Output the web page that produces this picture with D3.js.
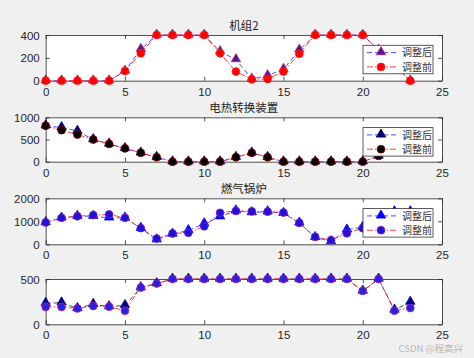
<!DOCTYPE html>
<html><head><meta charset="utf-8">
<script src="https://cdn.jsdelivr.net/npm/d3@7"></script>
<style>
html,body{margin:0;padding:0;background:#f0f0f0;}
svg{display:block;}
</style></head>
<body>
<svg id="chart" width="474" height="358"></svg>
<script>
// ---- data ----
const hours = [0,1,2,3,4,5,6,7,8,9,10,11,12,13,14,15,16,17,18,19,20,21,22,23];
const xTicks = [0,5,10,15,20,25];
const seriesNames = ["调整后", "调整前"];
const panelTitles = ["机组2", "电热转换装置", "燃气锅炉", ""];

const unit2After  = [0,0,0,0,0,85,275,400,400,400,400,255,185,15,45,100,270,400,400,400,400,270,130,0];
const unit2Before = [0,0,0,0,0,85,240,400,400,400,400,240,80,12,15,80,235,400,400,400,400,265,130,0];
const unit2YTicks = [0,200,400];

const e2hAfter  = [810,770,690,500,400,300,200,100,0,0,0,0,100,200,100,0,0,0,0,0,0,130,300,500];
const e2hBefore = [810,710,610,500,400,300,200,100,0,0,0,0,100,200,100,0,0,0,0,0,0,130,300,500];
const e2hYTicks = [0,500,1000];

const boilerAfter  = [950,1150,1220,1220,1150,1150,700,200,450,600,900,1200,1460,1380,1420,1350,930,300,120,630,750,1150,1420,1420];
const boilerBefore = [950,1150,1220,1270,1300,1150,700,250,470,500,780,1370,1450,1430,1420,1380,930,320,180,480,700,1100,1350,1350];
const boilerYTicks = [0,1000,2000];

const p4After  = [232,238,175,222,195,208,405,450,500,500,500,500,500,500,500,500,500,500,500,500,368,500,158,245];
const p4Before = [192,192,175,202,195,150,405,450,500,500,500,500,500,500,500,500,500,500,500,500,368,500,150,180];
const p4YTicks = [0,500];

// ---- layout / styles ----
const panels = [
  {title: panelTitles[0], after: unit2After, before: unit2Before, ymax: 400, yTicks: unit2YTicks,
   top: 35, bottom: 80.7, legend: true,
   aLine: "#3d3dff", aFill: "#4d1a8f", aStroke: "#c0206a",
   bLine: "#ff2a2a", bFill: "#ff0000", bStroke: "#ff2020"},
  {title: panelTitles[1], after: e2hAfter, before: e2hBefore, ymax: 1000, yTicks: e2hYTicks,
   top: 117.3, bottom: 161.7, legend: true,
   aLine: "#3d3dff", aFill: "#000070", aStroke: "#000070",
   bLine: "#ff2a2a", bFill: "#000000", bStroke: "#8b0000"},
  {title: panelTitles[2], after: boilerAfter, before: boilerBefore, ymax: 2000, yTicks: boilerYTicks,
   top: 198.3, bottom: 244.3, legend: true,
   aLine: "#3d3dff", aFill: "#0000ff", aStroke: "#0000ff",
   bLine: "#ff2a2a", bFill: "#2010d8", bStroke: "#8a20c0"},
  {title: panelTitles[3], after: p4After, before: p4Before, ymax: 500, yTicks: p4YTicks,
   top: 279, bottom: 324.3, legend: false,
   aLine: "#303030", aFill: "#00008b", aStroke: "#00008b",
   bLine: "#ff2a2a", bFill: "#2a20e0", bStroke: "#b020b0"}
];

const left = 45.7, right = 442;
const svg = d3.select("#chart");
const x = d3.scaleLinear().domain([0,25]).range([left, right]);
const axisColor = "#262626";
const tri = d3.symbol().type(d3.symbolTriangle).size(38);

panels.forEach(p => {
  const y = d3.scaleLinear().domain([0, p.ymax]).range([p.bottom, p.top]);
  const g = svg.append("g");
  g.append("rect").attr("x", left).attr("y", p.top)
    .attr("width", right-left).attr("height", p.bottom-p.top).attr("fill", "#fff");

  // axes (ticks pointing inward)
  const xb = g.append("g").attr("transform", `translate(0,${p.bottom})`)
    .call(d3.axisBottom(x).tickValues(xTicks).tickFormat(d3.format("d")).tickSizeInner(-4).tickSizeOuter(0).tickPadding(7));
  const xt = g.append("g").attr("transform", `translate(0,${p.top})`)
    .call(d3.axisTop(x).tickValues(xTicks).tickSizeInner(-4).tickSizeOuter(0).tickFormat(""));
  const yl = g.append("g").attr("transform", `translate(${left},0)`)
    .call(d3.axisLeft(y).tickValues(p.yTicks).tickFormat(d3.format("d")).tickSizeInner(-4).tickSizeOuter(0).tickPadding(6));
  const yr = g.append("g").attr("transform", `translate(${right},0)`)
    .call(d3.axisRight(y).tickValues(p.yTicks).tickSizeInner(-4).tickSizeOuter(0).tickFormat(""));
  [xb, xt, yl, yr].forEach(a => {
    a.select(".domain").attr("stroke", axisColor).attr("stroke-width", 0.8);
    a.selectAll(".tick line").attr("stroke", axisColor).attr("stroke-width", 0.8);
    a.selectAll(".tick text").attr("fill", axisColor)
      .style("font-family", "'Liberation Sans', Arial, sans-serif").style("font-size", "11.5px");
  });
  yl.selectAll(".tick text").attr("dy", "0.36em");

  if (p.title) {
    g.append("text").attr("x", (left+right)/2).attr("y", p.top - 5)
      .attr("text-anchor", "middle").attr("fill", "#222")
      .style("font-family", "'Noto Sans CJK SC', sans-serif").style("font-size", "11.5px")
      .text(p.title);
  }

  const line = d3.line().x((d,i) => x(hours[i])).y(d => y(d));
  g.append("path").datum(p.after).attr("d", line).attr("fill", "none")
    .attr("stroke", p.aLine).attr("stroke-width", 0.9).attr("stroke-dasharray", "5,3");
  g.append("path").datum(p.before).attr("d", line).attr("fill", "none")
    .attr("stroke", p.bLine).attr("stroke-width", 0.9).attr("stroke-dasharray", "6,2,1.5,2");

  g.selectAll(".ta").data(p.after).enter().append("path")
    .attr("d", tri).attr("transform", (d,i) => `translate(${x(hours[i])},${y(d)-0.5})`)
    .attr("fill", p.aFill).attr("stroke", p.aStroke).attr("stroke-width", 0.8);
  g.selectAll(".cb").data(p.before).enter().append("circle")
    .attr("cx", (d,i) => x(hours[i])).attr("cy", d => y(d)).attr("r", 3.9)
    .attr("fill", p.bFill).attr("stroke", p.bStroke).attr("stroke-width", 0.8);

  if (p.legend) {
    const lx = 363, lw = 70, lh = 28.5;
    const ly = p.top + 10.3;
    const lg = g.append("g");
    lg.append("rect").attr("x", lx).attr("y", ly).attr("width", lw).attr("height", lh)
      .attr("fill", "#fff").attr("stroke", "#333").attr("stroke-width", 0.8);
    const rows = [
      {name: seriesNames[0], line: p.aLine, dash: "5,3", marker: "tri", fill: p.aFill, stroke: p.aStroke},
      {name: seriesNames[1], line: p.bLine, dash: "6,2,1.5,2", marker: "circ", fill: p.bFill, stroke: p.bStroke}
    ];
    rows.forEach((r, k) => {
      const cy = ly + 7.3 + k * 14.3;
      lg.append("line").attr("x1", lx + 4).attr("x2", lx + 34).attr("y1", cy).attr("y2", cy)
        .attr("stroke", r.line).attr("stroke-width", 0.9).attr("stroke-dasharray", r.dash);
      if (r.marker === "tri") {
        lg.append("path").attr("d", tri).attr("transform", `translate(${lx+18},${cy-0.5})`)
          .attr("fill", r.fill).attr("stroke", r.stroke).attr("stroke-width", 0.8);
      } else {
        lg.append("circle").attr("cx", lx + 18).attr("cy", cy).attr("r", 3.9)
          .attr("fill", r.fill).attr("stroke", r.stroke).attr("stroke-width", 0.8);
      }
      lg.append("text").attr("x", lx + 39).attr("y", cy).attr("dy", "0.36em")
        .attr("fill", "#333").style("font-family", "'Noto Sans CJK SC', sans-serif")
        .style("font-size", "10px").text(r.name);
    });
  }
});

svg.append("text").attr("x", 463).attr("y", 352).attr("text-anchor", "end")
  .attr("fill", "#b8b8b8").style("font-family", "'Noto Sans CJK SC', sans-serif")
  .style("font-size", "9.5px").text("CSDN @程高兴");
</script>
</body></html>
